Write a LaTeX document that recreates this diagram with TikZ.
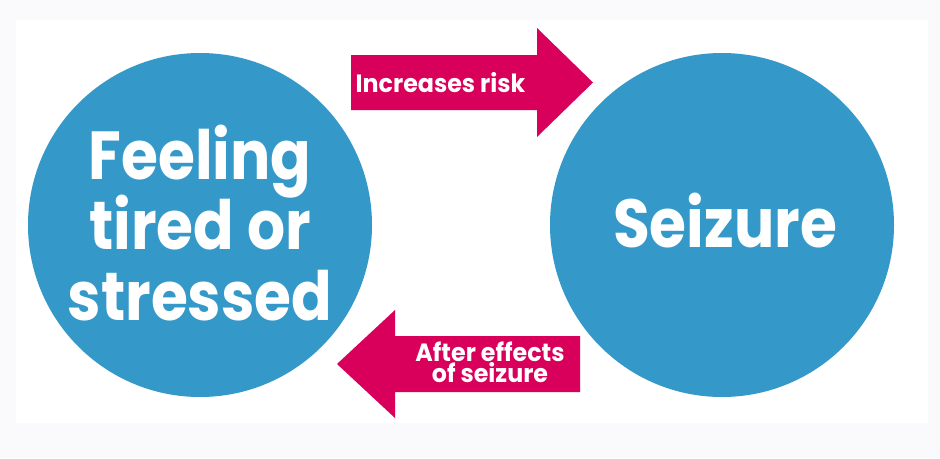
\documentclass[tikz,border=0pt]{standalone}
\usepackage{fontspec}
\usepackage{graphicx}
\setmainfont{Poppins}
\definecolor{circblue}{HTML}{3499C9}
\definecolor{arrowpink}{HTML}{D8005A}
\definecolor{framegray}{HTML}{FAFAFC}
\newcommand{\sqzbig}[1]{\scalebox{0.88}[1]{#1}}
\newcommand{\sqzsmall}[1]{\scalebox{0.95}[1]{#1}}
\begin{document}
\begin{tikzpicture}[x=1pt,y=-1pt,
  bubble/.style={circle,fill=circblue,minimum size=344pt,inner sep=0pt},
  bigtext/.style={text=white,font=\fontsize{68}{70}\selectfont\bfseries,anchor=base,inner sep=0pt},
  labeltext/.style={text=white,font=\fontsize{25}{21.5}\selectfont\bfseries,inner sep=0pt,align=center},
  blockarrow/.style={fill=arrowpink}]
\fill[framegray] (0,0) rectangle (940,458);
\fill[white] (16,20) rectangle (928,423);
\useasboundingbox (0,0) rectangle (940,458);
\node[bubble] (tired) at (200,225) {};
\node[bubble] (seizure) at (722,225) {};
\node[bigtext] (t1) at (200,179) {\sqzbig{Feeling}};
\node[bigtext] (t2) at (200,249) {\sqzbig{tired or}};
\node[bigtext] (t3) at (200,320) {\sqzbig{stressed}};
\node[bigtext] (s1) at (725,247) {\sqzbig{Seizure}};
% upper arrow
\fill[blockarrow] (351,55) -- (537,55) -- (537,28) -- (593,82.5) -- (537,137) -- (537,110) -- (351,110) -- cycle;
\node[labeltext,anchor=base] (l1) at (440.5,92) {\sqzsmall{Increases risk}};
% lower arrow
\fill[blockarrow] (580,336) -- (395,336) -- (395,310) -- (337,364) -- (395,418) -- (395,392) -- (580,392) -- cycle;
\node[labeltext,anchor=base] (l2) at (490,382.5) {\sqzsmall{After effects}\\\sqzsmall{of seizure}};
\end{tikzpicture}
\end{document}
